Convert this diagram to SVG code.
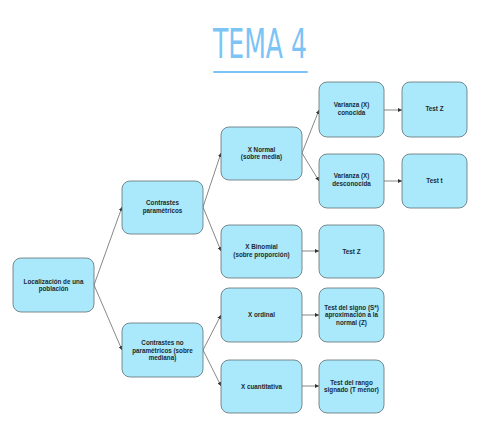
<svg xmlns="http://www.w3.org/2000/svg" width="480" height="427" viewBox="0 0 480 427">
<style>
.box{fill:#a9e9fb;stroke:#5f6e74;stroke-width:0.8}
.t{font-family:"Liberation Sans",Arial,sans-serif;font-weight:bold;font-size:6.3px;fill:#1c2a30;text-anchor:middle}
.c{stroke:#555;stroke-width:0.7;fill:none;marker-end:url(#ah)}
.title{font-family:"DejaVu Sans Condensed","DejaVu Sans",sans-serif;font-size:41px;fill:#7cc4f6}
</style>
<defs>
<marker id="ah" viewBox="0 0 6 6" refX="6" refY="3" markerWidth="4" markerHeight="4" orient="auto" markerUnits="userSpaceOnUse">
<path d="M0,0 L6,3 L0,6 z" fill="#333"/>
</marker>
</defs>
<rect width="480" height="427" fill="#ffffff"/>
<g id="title">
<text class="title" x="213" y="58" textLength="94" lengthAdjust="spacingAndGlyphs">TEMA 4</text>
<rect x="213" y="71" width="95" height="2" rx="1" fill="#7cc4f6"/>
</g>
<g id="connectors">
<path class="c" d="M94,285 L122,207"/>
<path class="c" d="M94,285 L122,350"/>
<path class="c" d="M203,207 L221,153"/>
<path class="c" d="M203,207 L221,251"/>
<path class="c" d="M203,350 L221,315"/>
<path class="c" d="M203,350 L221,386"/>
<path class="c" d="M302,153 L319,110"/>
<path class="c" d="M302,153 L319,181"/>
<path class="c" d="M384,110 L402,110"/>
<path class="c" d="M384,181 L402,181"/>
<path class="c" d="M302,251 L319,251"/>
<path class="c" d="M302,315 L319,315"/>
<path class="c" d="M302,386 L319,386"/>
</g>
<g id="n-localizacion">
<rect class="box" x="13" y="258" width="81" height="54" rx="8"/>
<text class="t" x="53.5" y="283.5">Localización de una</text>
<text class="t" x="53.5" y="291">población</text>
</g>
<g id="n-param">
<rect class="box" x="122" y="181" width="81" height="53" rx="8"/>
<text class="t" x="162.5" y="205">Contrastes</text>
<text class="t" x="162.5" y="212.5">paramétricos</text>
</g>
<g id="n-noparam">
<rect class="box" x="122" y="323" width="81" height="54" rx="8"/>
<text class="t" x="162.5" y="345">Contrastes no</text>
<text class="t" x="162.5" y="352.5">paramétricos (sobre</text>
<text class="t" x="162.5" y="360">mediana)</text>
</g>
<g id="n-normal">
<rect class="box" x="221" y="127" width="81" height="53" rx="8"/>
<text class="t" x="261.5" y="151.5">X Normal</text>
<text class="t" x="261.5" y="159">(sobre media)</text>
</g>
<g id="n-binomial">
<rect class="box" x="221" y="225" width="81" height="53" rx="8"/>
<text class="t" x="261.5" y="249">X Binomial</text>
<text class="t" x="261.5" y="256.5">(sobre proporción)</text>
</g>
<g id="n-ordinal">
<rect class="box" x="221" y="288" width="81" height="54" rx="8"/>
<text class="t" x="261.5" y="317">X ordinal</text>
</g>
<g id="n-cuantitativa">
<rect class="box" x="221" y="360" width="81" height="53" rx="8"/>
<text class="t" x="261.5" y="388.5">X cuantitativa</text>
</g>
<g id="n-var-conocida">
<rect class="box" x="319" y="82" width="65" height="55" rx="8"/>
<text class="t" x="351.5" y="106.5">Varianza (X)</text>
<text class="t" x="351.5" y="114.5">conocida</text>
</g>
<g id="n-var-desconocida">
<rect class="box" x="319" y="154" width="65" height="54" rx="8"/>
<text class="t" x="351.5" y="178">Varianza (X)</text>
<text class="t" x="351.5" y="186">desconocida</text>
</g>
<g id="n-testz1">
<rect class="box" x="402" y="82" width="65" height="55" rx="8"/>
<text class="t" x="434.5" y="111">Test Z</text>
</g>
<g id="n-testt">
<rect class="box" x="402" y="154" width="65" height="54" rx="8"/>
<text class="t" x="434.5" y="183">Test t</text>
</g>
<g id="n-testz2">
<rect class="box" x="319" y="225" width="65" height="53" rx="8"/>
<text class="t" x="351.5" y="254">Test Z</text>
</g>
<g id="n-signo">
<rect class="box" x="319" y="288" width="65" height="54" rx="8"/>
<text class="t" x="351.5" y="309.5">Test del signo (S*)</text>
<text class="t" x="351.5" y="317">aproximación a la</text>
<text class="t" x="351.5" y="324.5">normal (Z)</text>
</g>
<g id="n-rango">
<rect class="box" x="319" y="360" width="65" height="53" rx="8"/>
<text class="t" x="351.5" y="384.5">Test del rango</text>
<text class="t" x="351.5" y="392">signado (T menor)</text>
</g>
</svg>
